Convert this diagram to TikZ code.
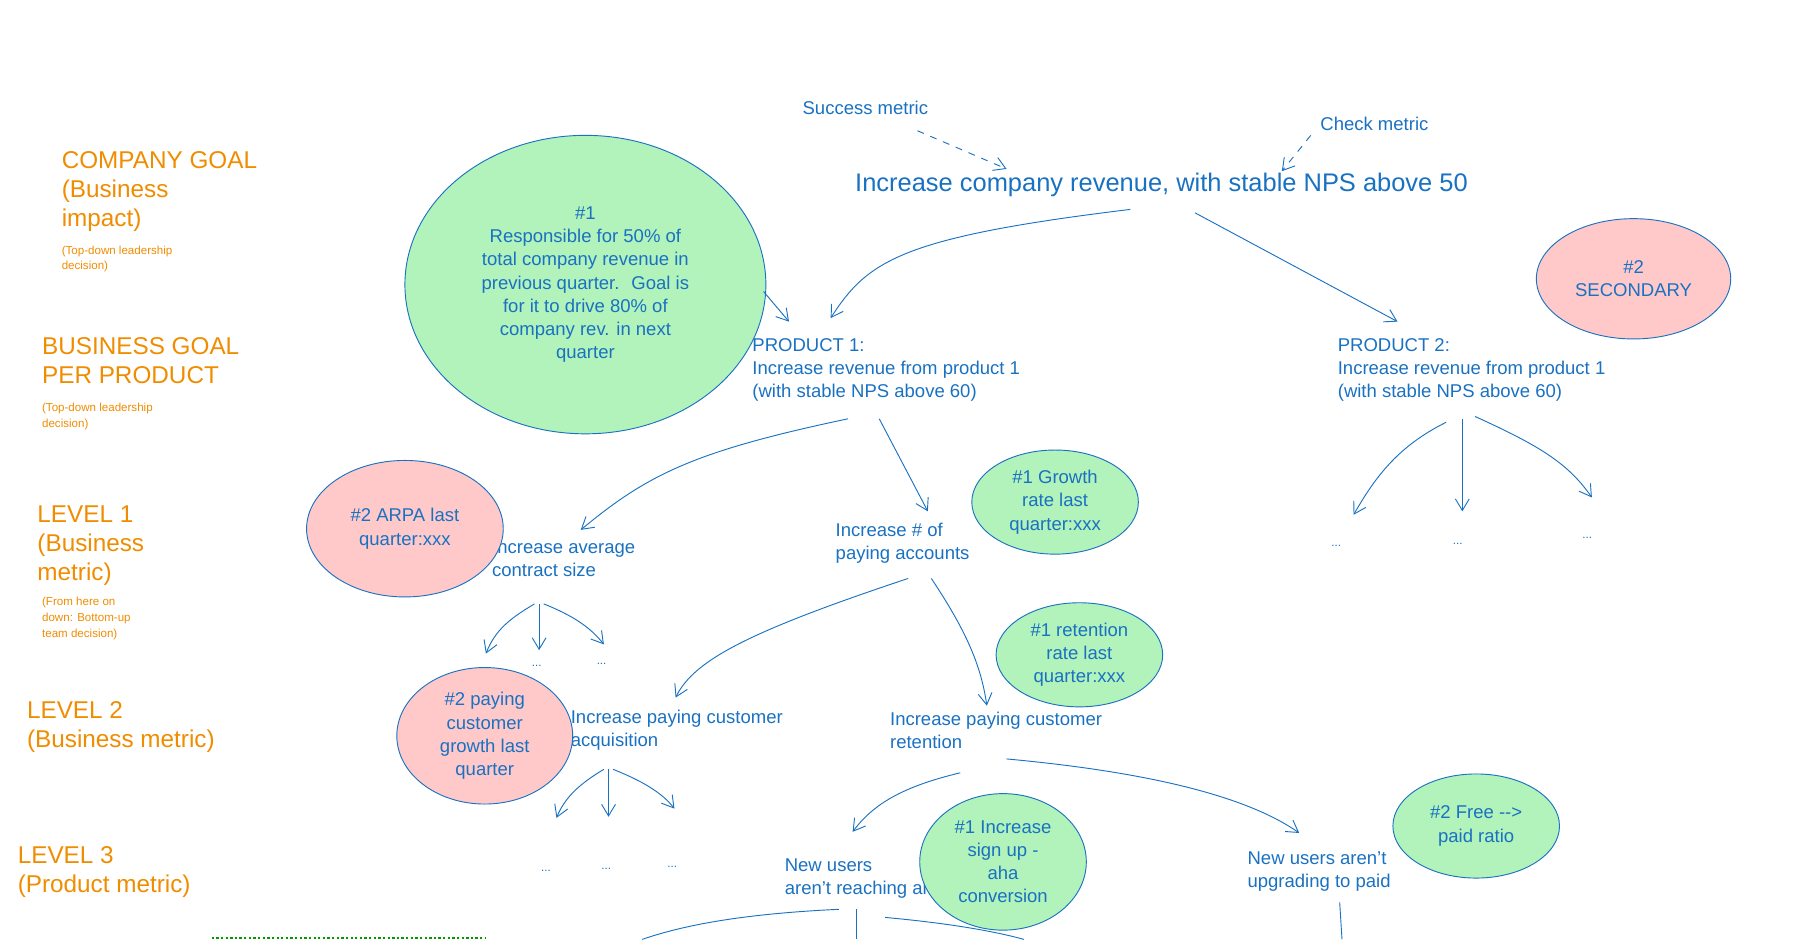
\documentclass[tikz,border=0pt]{standalone}
\usepackage{fontspec}
\setmainfont{Liberation Sans}
\usetikzlibrary{arrows.meta}
\definecolor{org}{HTML}{F08C00}
\definecolor{blu}{HTML}{1971C2}
\definecolor{gfill}{HTML}{B2F2BB}
\definecolor{rfill}{HTML}{FFC9C9}
\tikzset{
 lab/.style={text=org,align=left,anchor=north west,inner sep=0pt,font=\fontsize{10.5}{12.5}\selectfont},
 sub/.style={text=org,align=left,anchor=north west,inner sep=0pt,font=\fontsize{5}{6.8}\selectfont},
 txt/.style={text=blu,align=left,anchor=north west,inner sep=0pt,font=\fontsize{8}{10}\selectfont},
 ctxt/.style={text=blu,align=center,inner sep=0pt,font=\fontsize{8}{10}\selectfont},
 gell/.style={draw=blu,line width=0.4pt,fill=gfill,ellipse node},
 rell/.style={draw=blu,line width=0.4pt,fill=rfill},
 arr/.style={draw=blu,line width=0.4pt,-{Straight Barb[length=5pt,width=6pt]}},
 dots/.style={text=blu,inner sep=0pt,font=\fontsize{5}{6}\selectfont},
 ellipse node/.style={},
}
\begin{document}
\begin{tikzpicture}[x=0.5pt,y=-0.5pt]
\useasboundingbox (0,0) rectangle (1568,812);
% left labels
\node[lab] (l0) at (53,131) {COMPANY GOAL\\(Business\\impact)};
\node[sub] (s0) at (53,212) {(Top-down leadership\\decision)};
\node[lab] (l1) at (36,291) {BUSINESS GOAL\\PER PRODUCT};
\node[sub] (s1) at (36,348) {(Top-down leadership\\decision)};
\node[lab] (l2) at (32,437) {LEVEL 1\\(Business\\metric)};
\node[sub] (s2) at (36,516) {(From here on\\down: Bottom-up\\team decision)};
\node[lab] (l3) at (23,606) {LEVEL 2\\(Business metric)};
\node[lab] (l4) at (15,731) {LEVEL 3\\(Product metric)};
% top
\node[ctxt] (sm) at (748,93) {Success metric};
\node[ctxt] (cm) at (1188,107) {Check metric};
\node[text=blu,inner sep=0pt,font=\fontsize{11}{13}\selectfont] (goal) at (1004,160) {Increase company revenue, with stable NPS above 50};
\coordinate (a1) at (793,113); \coordinate (a2) at (870,146);
\coordinate (b1) at (1133,117); \coordinate (b2) at (1108,148);
\draw[arr,dashed] (a1) -- (a2);
\draw[arr,dashed] (b1) -- (b2);
% products
\node[txt] (p1) at (650,292) {PRODUCT 1:\\Increase revenue from product 1\\(with stable NPS above 60)};
\node[txt] (p2) at (1156,292) {PRODUCT 2:\\Increase revenue from product 1\\(with stable NPS above 60)};
% level1
\node[txt] (cs) at (425,467) {Increase average\\contract size};
\node[txt] (pa) at (722,452) {Increase \# of\\paying accounts};
% level2
\node[txt] (acq) at (493,613) {Increase paying customer\\acquisition};
\node[txt] (ret) at (769,615) {Increase paying customer\\retention};
% level3
\node[txt] (nu) at (678,742) {New users\\aren't reaching aha};
\node[txt] (up) at (1078,736) {New users aren't\\upgrading to paid};
% ellipses
\draw[rell] (350,457) ellipse (85 and 59);
\node[ctxt] (e2) at (350,457) {\#2 ARPA last\\quarter:xxx};
\draw[gell] (506,246) ellipse (156 and 129);
\node[ctxt] (e1) at (506,246) {\#1\\Responsible for 50\% of\\total company revenue in\\previous quarter.~ Goal is\\for it to drive 80\% of\\company rev. in next\\quarter};
\draw[rell] (1412,241) ellipse (84 and 52);
\node[ctxt] (e3) at (1412,241) {\#2\\SECONDARY};
\draw[gell] (912,434) ellipse (72 and 45);
\node[ctxt] (e4) at (912,434) {\#1 Growth\\rate last\\quarter:xxx};
\draw[gell] (933,566) ellipse (72 and 45);
\node[ctxt] (e5) at (933,566) {\#1 retention\\rate last\\quarter:xxx};
\draw[rell] (419,636) ellipse (76 and 59);
\node[ctxt] (e6) at (419,636) {\#2 paying\\customer\\growth last\\quarter};
\draw[gell] (867,745) ellipse (72 and 59);
\node[ctxt] (e7) at (867,745) {\#1 Increase\\sign up -\\aha\\conversion};
\draw[gell] (1276,714) ellipse (72 and 45);
\node[ctxt] (e8) at (1276,714) {\#2 Free -{}->\\paid ratio};
% connectors
\draw[arr] (660,252) -- (682,278);
\draw[arr] (977,181) .. controls (780,205) and (750,225) .. (718,275);
\draw[arr] (1033,184) -- (1208,278);
\draw[arr] (1250,365) .. controls (1210,385) and (1190,410) .. (1170,445);
\draw[arr] (1264,362) -- (1264,442);
\draw[arr] (1275,360) .. controls (1330,385) and (1355,400) .. (1376,430);
\node[dots] (d1) at (1155,472) {...};
\node[dots] (d2) at (1260,470) {...};
\node[dots] (d3) at (1372,465) {...};
\draw[arr] (733,362) .. controls (600,390) and (560,410) .. (502,458);
\draw[arr] (760,362) -- (802,442);
\draw[arr] (462,522) .. controls (440,535) and (428,545) .. (420,565);
\draw[arr] (466,522) -- (466,562);
\draw[arr] (470,522) .. controls (495,532) and (510,542) .. (522,557);
\node[dots] (d4) at (464,576) {...};
\node[dots] (d5) at (520,574) {...};
\draw[arr] (785,500) .. controls (650,545) and (600,570) .. (584,603);
\draw[arr] (805,500) .. controls (835,545) and (848,575) .. (853,610);
\draw[arr] (522,665) .. controls (500,678) and (488,690) .. (481,707);
\draw[arr] (526,665) -- (526,706);
\draw[arr] (530,665) .. controls (555,675) and (572,685) .. (583,699);
\node[dots] (d6) at (472,753) {...};
\node[dots] (d7) at (524,751) {...};
\node[dots] (d8) at (581,749) {...};
\draw[arr] (830,668) .. controls (780,680) and (755,695) .. (737,719);
\draw[arr] (870,656) .. controls (1000,668) and (1080,690) .. (1123,720);
\draw[blu,line width=0.4pt] (725,786) .. controls (640,790) and (590,800) .. (555,812);
\draw[blu,line width=0.4pt] (740,786) -- (740,812);
\draw[blu,line width=0.4pt] (765,793) .. controls (820,798) and (860,805) .. (885,812);
\draw[blu,line width=0.4pt] (1158,780) -- (1160,812);
\draw[green!60!black,densely dotted,line width=1pt] (183,811) -- (420,811);
\end{tikzpicture}
\end{document}
